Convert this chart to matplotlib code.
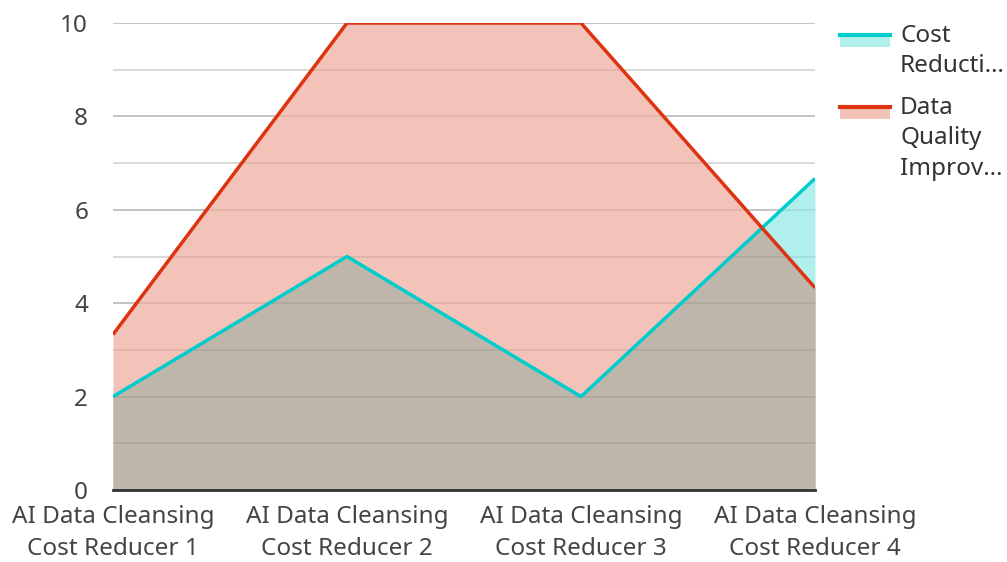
import numpy as np
import matplotlib.pyplot as plt
from matplotlib.patches import Rectangle
from matplotlib.lines import Line2D

plt.rcParams['font.family'] = ['Noto Sans', 'DejaVu Sans']

categories = ['AI Data Cleansing\nCost Reducer 1', 'AI Data Cleansing\nCost Reducer 2',
              'AI Data Cleansing\nCost Reducer 3', 'AI Data Cleansing\nCost Reducer 4']
cost_reduction = [2, 5, 2, 6.67]
quality_improvement = [3.33, 10, 10, 4.33]
legend_labels = ['Cost\nReducti…', 'Data\nQuality\nImprov…']

CYAN = '#00cccc'
RED = '#dd3311'
CYAN_FILL = '#b1efed'
RED_FILL = '#f3c2b8'
OVERLAP = '#beb6ab'
FS = 17.5

fig = plt.figure(figsize=(10.07, 5.62), dpi=100)
ax = fig.add_axes([113 / 1007, 1 - 490 / 562, 702 / 1007, 467 / 562])

x = np.arange(len(categories))
c = np.array(cost_reduction)
q = np.array(quality_improvement)

# gridlines: major on even values, lighter on odd
for v in range(1, 11):
    ax.axhline(v, color='#cccccc' if v % 2 == 0 else '#e6e6e6', lw=1.2, zorder=0)

ax.fill_between(x, 0, c, color=CYAN_FILL, lw=0, zorder=1)
ax.fill_between(x, 0, q, color=RED_FILL, lw=0, zorder=1)
# overlapping region (computed on a fine grid so the crossing is correct)
xf = np.linspace(0, 3, 601)
ax.fill_between(xf, 0, np.minimum(np.interp(xf, x, c), np.interp(xf, x, q)),
                color=OVERLAP, lw=0, zorder=2)
for v in range(1, 11):
    ax.axhline(v, color='#000000', alpha=0.08, lw=1.2, zorder=3)

ax.plot(x, c, color=CYAN, lw=2.5, zorder=4, solid_capstyle='butt')
ax.plot(x, q, color=RED, lw=2.5, zorder=4, solid_capstyle='butt')

ax.set_xlim(0, 3)
ax.set_ylim(0, 10)
ax.set_yticks([0, 2, 4, 6, 8, 10])
ax.set_xticks(x)
ax.set_xticklabels(categories, linespacing=1.45)
ax.tick_params(axis='both', length=0, labelsize=FS, colors='#444444')
ax.tick_params(axis='y', pad=18)
ax.tick_params(axis='x', pad=11)
for side in ['top', 'right', 'left']:
    ax.spines[side].set_visible(False)
ax.spines['bottom'].set_color('#333333')
ax.spines['bottom'].set_linewidth(2)
ax.spines['bottom'].set_zorder(5)

# legend drawn by hand in figure pixels
W, H = 1007, 562
for (ly, col, fill), lab in zip([(35, CYAN, CYAN_FILL), (107, RED, RED_FILL)], legend_labels):
    fig.patches.append(Rectangle((840 / W, 1 - (ly + 12) / H), 50 / W, 12 / H,
                                 transform=fig.transFigure, color=fill, lw=0))
    fig.lines.append(Line2D([840 / W, 890 / W], [1 - ly / H, 1 - ly / H],
                            transform=fig.transFigure, color=col, lw=3))
    fig.text(900 / W, 1 - (ly - 11) / H, lab, fontsize=FS, color='#333333',
             va='top', ha='left', linespacing=1.35)

fig.savefig('out.png', dpi=100)
